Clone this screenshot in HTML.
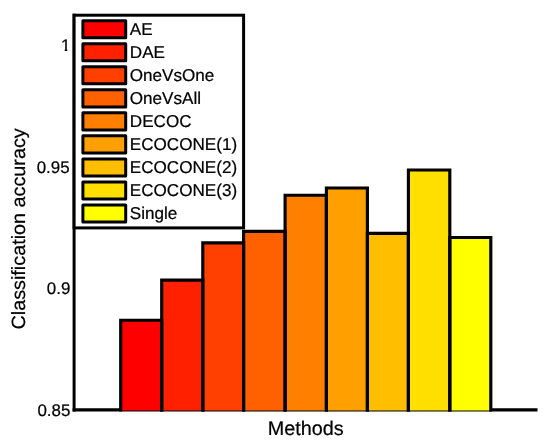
<!DOCTYPE html>
<html><head><meta charset="utf-8"><title>Classification accuracy by method</title>
<style>html,body{margin:0;padding:0;background:#fff}svg{display:block}text{font-family:"Liberation Sans",sans-serif;fill:#000;stroke:#000;stroke-width:0.22px;stroke-linejoin:round;text-rendering:geometricPrecision}.t{font-size:17.1px}.k{font-size:16.9px}.l{font-size:19.8px}</style></head><body>
<svg width="550" height="446" viewBox="0 0 550 446">
<rect width="550" height="446" fill="#fff"/>
<path d="M74.1 13.7V411.5" fill="none" stroke="#000" stroke-width="3"/><path d="M72.6 409.9H537.5" fill="none" stroke="#000" stroke-width="3.3"/>
<rect x="120.70" y="320.20" width="41.00" height="90.30" fill="#ff0000"/>
<rect x="161.70" y="280.10" width="41.10" height="130.40" fill="#ff2000"/>
<rect x="202.80" y="242.90" width="40.80" height="167.60" fill="#ff4000"/>
<rect x="243.60" y="231.30" width="41.50" height="179.20" fill="#ff6000"/>
<rect x="285.10" y="195.20" width="41.30" height="215.30" fill="#ff8000"/>
<rect x="326.40" y="188.00" width="41.00" height="222.50" fill="#ff9f00"/>
<rect x="367.40" y="233.40" width="41.00" height="177.10" fill="#ffbf00"/>
<rect x="408.40" y="170.00" width="41.40" height="240.50" fill="#ffdf00"/>
<rect x="449.80" y="237.50" width="41.00" height="173.00" fill="#ffff00"/>
<path d="M120.70 411.5V320.20H161.70V411.55" fill="none" stroke="#000" stroke-width="3.15" stroke-linejoin="miter"/>
<path d="M161.70 411.5V280.10H202.80V411.55" fill="none" stroke="#000" stroke-width="3.15" stroke-linejoin="miter"/>
<path d="M202.80 411.5V242.90H243.60V411.55" fill="none" stroke="#000" stroke-width="3.15" stroke-linejoin="miter"/>
<path d="M243.60 411.5V231.30H285.10V411.55" fill="none" stroke="#000" stroke-width="3.15" stroke-linejoin="miter"/>
<path d="M285.10 411.5V195.20H326.40V411.55" fill="none" stroke="#000" stroke-width="3.15" stroke-linejoin="miter"/>
<path d="M326.40 411.5V188.00H367.40V411.55" fill="none" stroke="#000" stroke-width="3.15" stroke-linejoin="miter"/>
<path d="M367.40 411.5V233.40H408.40V411.55" fill="none" stroke="#000" stroke-width="3.15" stroke-linejoin="miter"/>
<path d="M408.40 411.5V170.00H449.80V411.55" fill="none" stroke="#000" stroke-width="3.15" stroke-linejoin="miter"/>
<path d="M449.80 411.5V237.50H490.80V411.55" fill="none" stroke="#000" stroke-width="3.15" stroke-linejoin="miter"/>
<rect x="74.1" y="15.2" width="169.5" height="212.7" fill="#fff" stroke="#000" stroke-width="3"/>
<rect x="82.9" y="20.70" width="42.8" height="17.1" fill="#ff0000" stroke="#000" stroke-width="3" stroke-linejoin="round"/>
<text class="t" x="129.8" y="35">AE</text>
<rect x="82.9" y="43.73" width="42.8" height="17.1" fill="#ff2000" stroke="#000" stroke-width="3" stroke-linejoin="round"/>
<text class="t" x="129.8" y="58">DAE</text>
<rect x="82.9" y="66.76" width="42.8" height="17.1" fill="#ff4000" stroke="#000" stroke-width="3" stroke-linejoin="round"/>
<text class="t" x="129.8" y="81">OneVsOne</text>
<rect x="82.9" y="89.79" width="42.8" height="17.1" fill="#ff6000" stroke="#000" stroke-width="3" stroke-linejoin="round"/>
<text class="t" x="129.8" y="104">OneVsAll</text>
<rect x="82.9" y="112.82" width="42.8" height="17.1" fill="#ff8000" stroke="#000" stroke-width="3" stroke-linejoin="round"/>
<text class="t" x="129.8" y="127">DECOC</text>
<rect x="82.9" y="135.85" width="42.8" height="17.1" fill="#ff9f00" stroke="#000" stroke-width="3" stroke-linejoin="round"/>
<text class="t" x="129.8" y="150">ECOCONE(1)</text>
<rect x="82.9" y="158.88" width="42.8" height="17.1" fill="#ffbf00" stroke="#000" stroke-width="3" stroke-linejoin="round"/>
<text class="t" x="129.8" y="173">ECOCONE(2)</text>
<rect x="82.9" y="181.91" width="42.8" height="17.1" fill="#ffdf00" stroke="#000" stroke-width="3" stroke-linejoin="round"/>
<text class="t" x="129.8" y="196">ECOCONE(3)</text>
<rect x="82.9" y="204.94" width="42.8" height="17.1" fill="#ffff00" stroke="#000" stroke-width="3" stroke-linejoin="round"/>
<text class="t" x="129.8" y="219">Single</text>
<clipPath id="one"><path d="M58 34H67.3V54H64.7V49H58Z"/></clipPath>
<g clip-path="url(#one)"><text class="k" x="70.5" y="51.00" text-anchor="end">1</text></g>
<text class="k" x="69.6" y="173.00" text-anchor="end">0.95</text>
<text class="k" x="70.3" y="294.00" text-anchor="end">0.9</text>
<text class="k" x="70.3" y="416.00" text-anchor="end">0.85</text>
<text class="l" x="305.6" y="435" text-anchor="middle">Methods</text>
<text class="l" transform="translate(25 228.9) rotate(-90) scale(1 0.97)" text-anchor="middle">Classification accuracy</text>
</svg></body></html>
